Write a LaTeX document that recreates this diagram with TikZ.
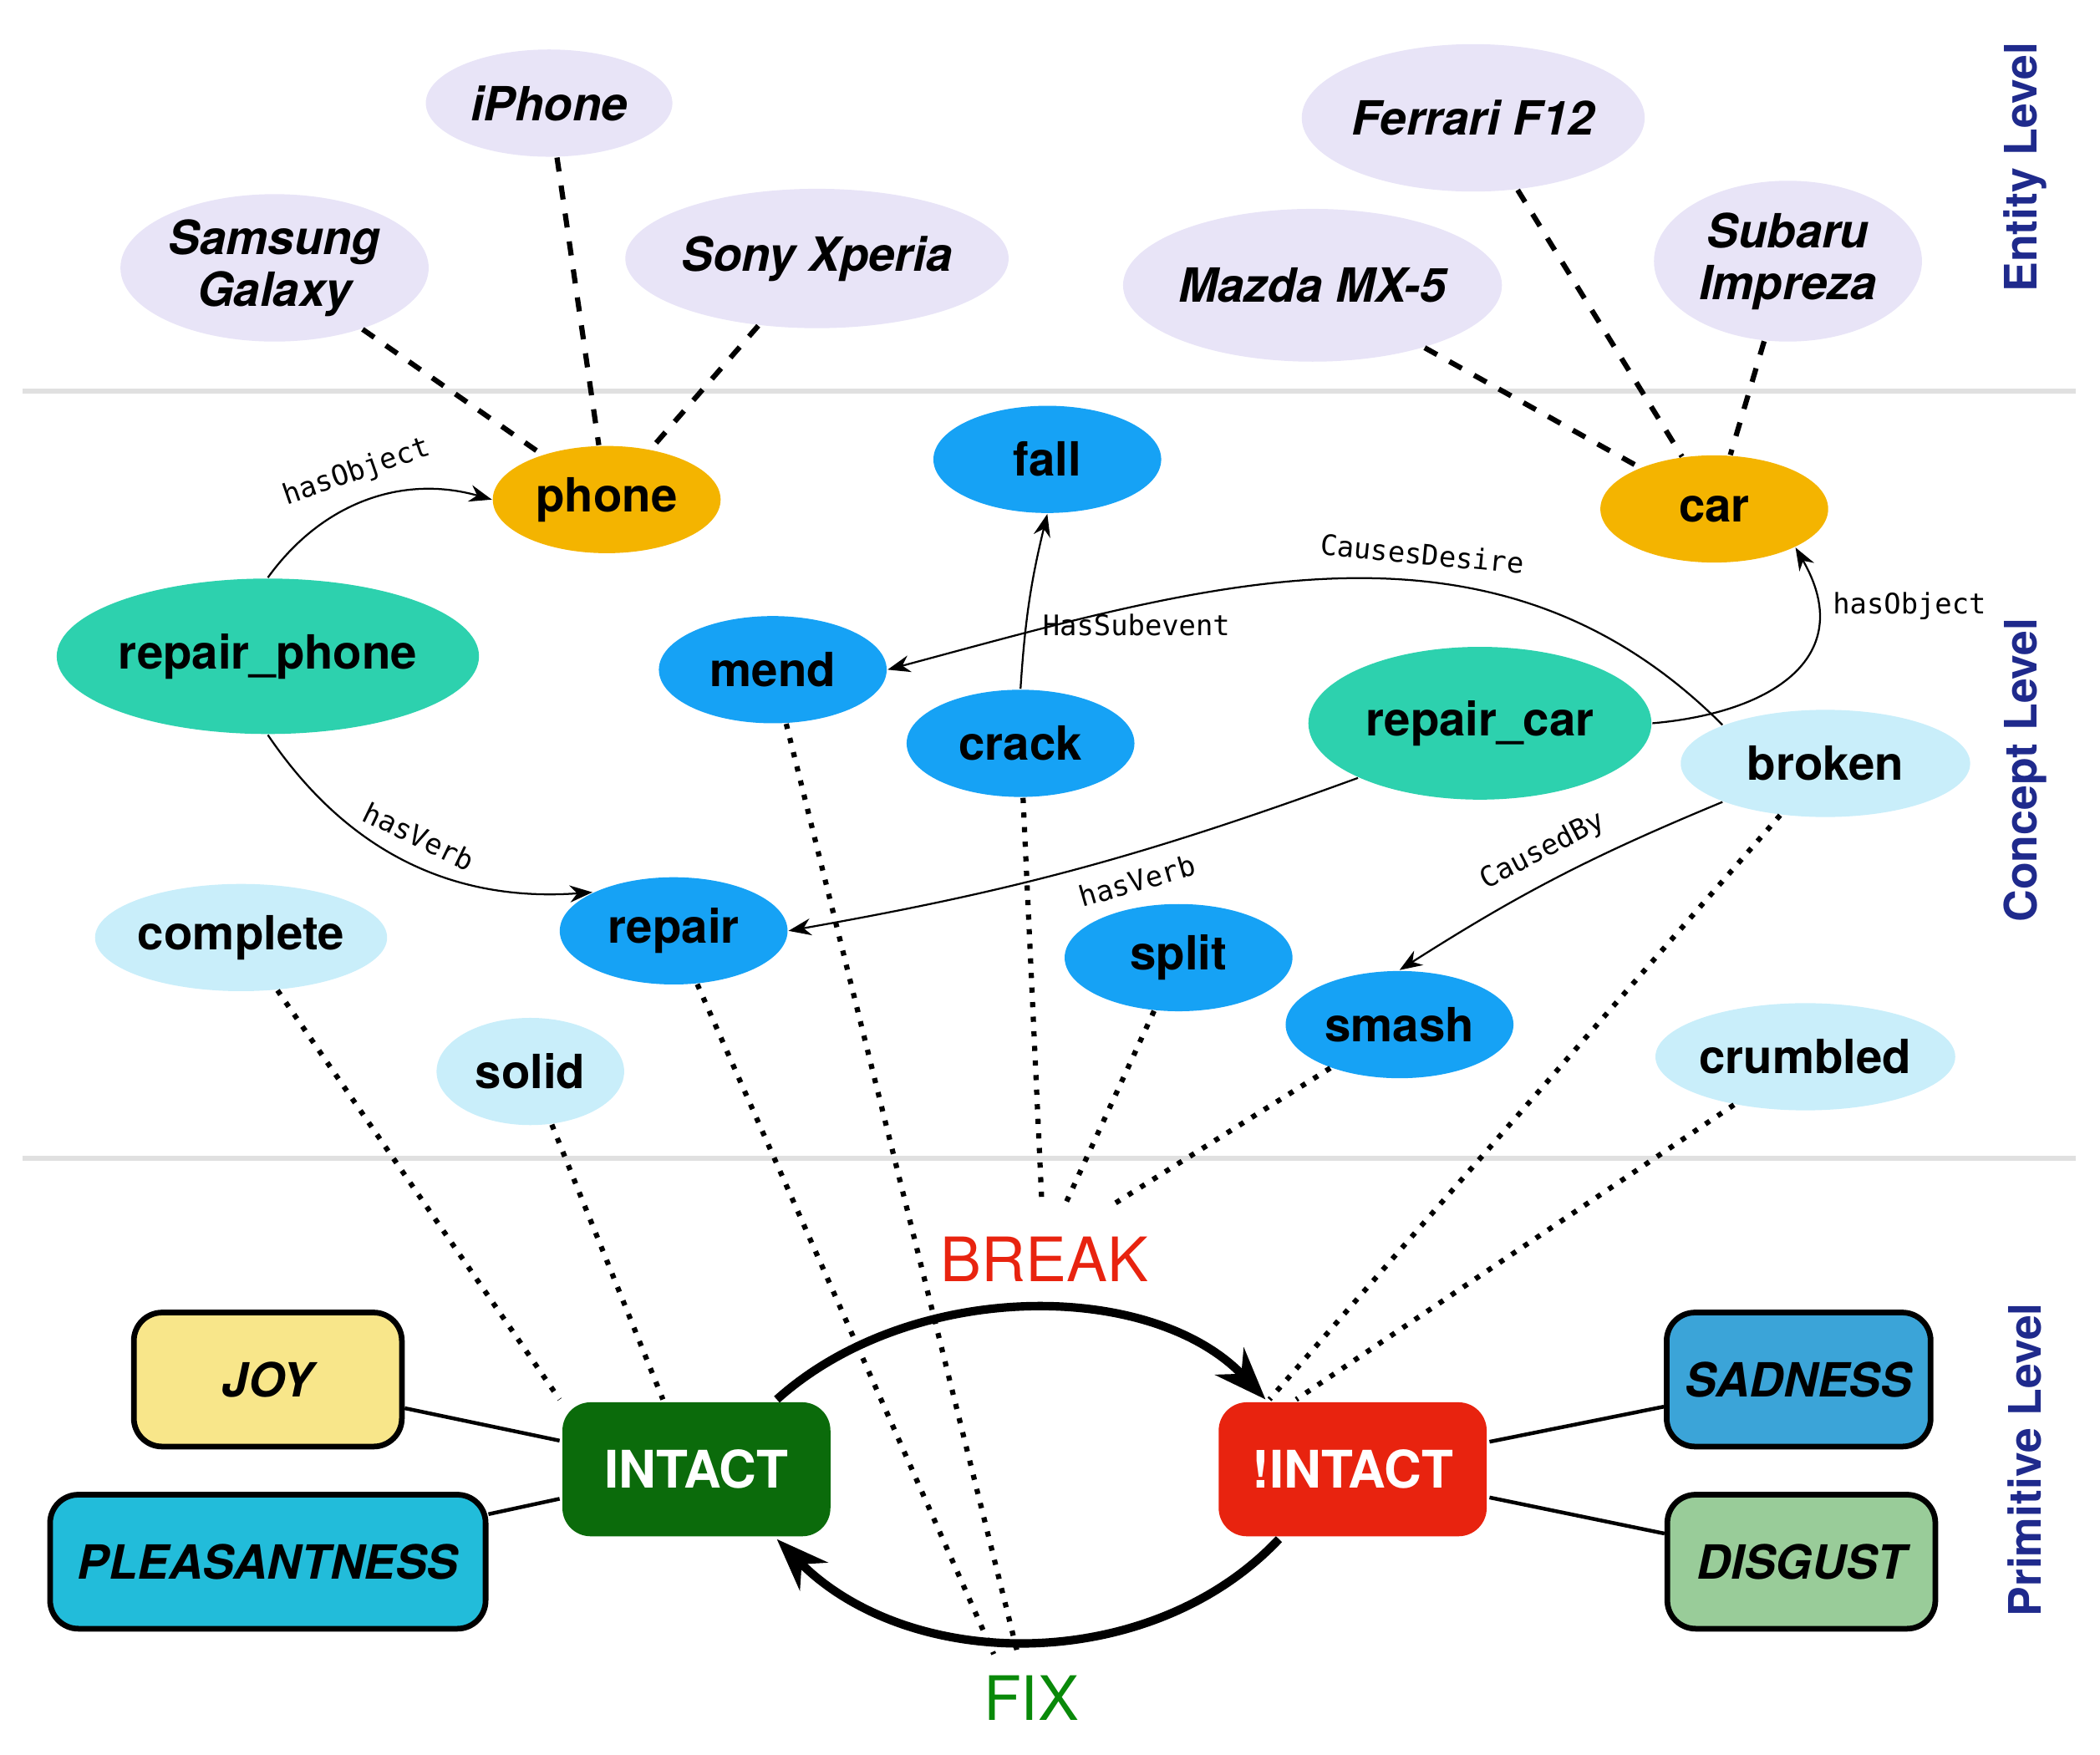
\documentclass[tikz,border=0pt]{standalone}
\usepackage{fontspec}
\setmainfont{TeX Gyre Heros}
\setmonofont{DejaVu Sans Mono}
\usetikzlibrary{shapes.geometric,arrows.meta}
\definecolor{lav}{HTML}{E8E4F7}
\definecolor{orng}{HTML}{F4B400}
\definecolor{blu}{HTML}{16A2F5}
\definecolor{grn}{HTML}{2DD1AE}
\definecolor{lblu}{HTML}{C9EEFA}
\definecolor{joyc}{HTML}{F8E68A}
\definecolor{plsc}{HTML}{22BCDA}
\definecolor{intc}{HTML}{0B6B0B}
\definecolor{nintc}{HTML}{E8230F}
\definecolor{sadc}{HTML}{3BA4D8}
\definecolor{disc}{HTML}{99CC99}
\definecolor{navy}{HTML}{1F2A8C}
\begin{document}
\begin{tikzpicture}[x=0.01cm,y=-0.01cm]
        \tikzstyle{ell} = [ellipse, inner sep=0pt, font=\fontsize{10}{11}\selectfont\bfseries]
        \tikzstyle{ent} = [ell, fill=lav, font=\fontsize{10}{11}\selectfont\bfseries\itshape, align=center]
        \tikzstyle{box} = [draw=black, line width=1.2pt, rounded corners=6pt, minimum width=2cm, minimum height=1cm, font=\fontsize{10}{11}\selectfont\bfseries\itshape]
        \tikzstyle{rel} = [font=\fontsize{6}{7}\selectfont\ttfamily, sloped]
        \tikzstyle{lvl} = [rotate=90, text=navy, font=\fontsize{9.5}{11}\selectfont\bfseries]
        \useasboundingbox (0,0) rectangle (1568,1310);
        \draw[black!12, line width=1pt] (17,292) -- (1550,292);
        \draw[black!12, line width=1pt] (17,865) -- (1550,865);

        % entity level
        \node[ent, minimum width=1.84cm, minimum height=0.8cm] (iphone) at (410,77) {iPhone};
        \node[ent, minimum width=2.3cm, minimum height=1.1cm] (samsung) at (205,200) {Samsung\\Galaxy};
        \node[ent, minimum width=2.3cm, minimum height=1.04cm] (sony) at (610,193) {Sony Xperia};
        \node[ent, minimum width=2.34cm, minimum height=1.1cm] (ferrari) at (1100,88) {Ferrari F12};
        \node[ent, minimum width=2.6cm, minimum height=1.14cm] (mazda) at (980,213) {Mazda MX-5};
        \node[ent, minimum width=2cm, minimum height=1.2cm] (subaru) at (1335,195) {Subaru\\Impreza};

        % concept level
        \node[ell, fill=orng, minimum width=1.7cm, minimum height=0.8cm] (phone) at (453,373) {phone};
        \node[ell, fill=orng, minimum width=1.7cm, minimum height=0.8cm] (car) at (1280,380) {car};
        \node[ell, fill=blu, minimum width=1.7cm, minimum height=0.8cm] (fall) at (782,343) {fall};
        \node[ell, fill=grn, minimum width=2.76cm, minimum height=1.16cm] (rphone) at (200,490) {repair\_phone};
        \node[ell, fill=blu, minimum width=1.7cm, minimum height=0.8cm] (mend) at (577,500) {mend};
        \node[ell, fill=blu, minimum width=1.7cm, minimum height=0.8cm] (crack) at (762,555) {crack};
        \node[ell, fill=grn, minimum width=2.56cm, minimum height=1.14cm] (rcar) at (1105,540) {repair\_car};
        \node[ell, fill=lblu, minimum width=2.16cm, minimum height=0.8cm] (broken) at (1363,570) {broken};
        \node[ell, fill=lblu, minimum width=1.94cm, minimum height=0.8cm] (complete) at (180,700) {complete};
        \node[ell, fill=blu, minimum width=1.7cm, minimum height=0.8cm] (repair) at (503,695) {repair};
        \node[ell, fill=blu, minimum width=1.7cm, minimum height=0.8cm] (split) at (880,715) {split};
        \node[ell, fill=blu, minimum width=1.7cm, minimum height=0.8cm] (smash) at (1045,765) {smash};
        \node[ell, fill=lblu, minimum width=1.4cm, minimum height=0.8cm] (solid) at (396,800) {solid};
        \node[ell, fill=lblu, minimum width=2.16cm, minimum height=0.8cm] (crumbled) at (1348,789) {crumbled};

        % primitive level
        \node[box, fill=joyc] (joy) at (200,1030) {JOY};
        \node[box, fill=plsc, minimum width=3.25cm] (pleas) at (200,1166) {PLEASANTNESS};
        \node[box, fill=intc, draw=none, text=white, font=\fontsize{11}{12}\selectfont\bfseries] (intact) at (520,1097) {INTACT};
        \node[box, fill=nintc, draw=none, text=white, font=\fontsize{11}{12}\selectfont\bfseries] (nintact) at (1010,1097) {!INTACT};
        \node[box, fill=sadc, minimum width=1.97cm] (sad) at (1343,1030) {SADNESS};
        \node[box, fill=disc] (disg) at (1345,1166) {DISGUST};
        \node[text=nintc, font=\fontsize{13}{14}\selectfont] (brk) at (780,940) {BREAK};
        \node[text=intc!80!green, font=\fontsize{13}{14}\selectfont] (fix) at (770,1268) {FIX};
        \coordinate (brk1) at (778,900);
        \coordinate (brk2) at (795,900);
        \coordinate (brk3) at (830,900);
        \coordinate (fix1) at (760,1235);
        \coordinate (fix2) at (742,1235);

        \node[lvl] (lent) at (1512,125) {Entity Level};
        \node[lvl] (lcon) at (1512,575) {Concept Level};
        \node[lvl] (lpri) at (1512,1090) {Primitive Level};

        % dashed links
        \draw[dashed, line width=1.1pt] (iphone) -- (phone);
        \draw[dashed, line width=1.1pt] (samsung) -- (phone);
        \draw[dashed, line width=1.1pt] (sony) -- (phone);
        \draw[dashed, line width=1.1pt] (ferrari) -- (car);
        \draw[dashed, line width=1.1pt] (mazda) -- (car);
        \draw[dashed, line width=1.1pt] (subaru) -- (car);

        % relations
        \path[-Stealth] (rphone.north) edge[bend left=35] node[rel, above]{hasObject} (phone.west);
        \path[-Stealth] (rphone.south) edge[bend right=30] node[rel, above]{hasVerb} (repair.north west);
        \path[-Stealth] (rcar.south west) edge[bend left=5] node[rel, below, pos=0.4]{hasVerb} (repair.east);
        \path[-Stealth] (rcar.east) edge[out=5, in=-60, looseness=1.4] node[rel, right, pos=0.8, sloped=false]{hasObject} (car.south east);
        \path[-Stealth] (broken.north west) edge[out=135, in=15] node[rel, above, pos=0.4]{CausesDesire} (mend.east);
        \path[-Stealth] (crack.north) edge[bend left=5] node[rel, right, pos=0.35, sloped=false]{HasSubevent} (fall.south);
        \path[-Stealth] (broken.south west) edge[bend right=5] node[rel, above]{CausedBy} (smash.north);

        % dotted links
        \draw[dotted, line width=1.1pt] (complete) -- (intact.north west);
        \draw[dotted, line width=1.1pt] (solid) -- ([xshift=-0.25cm]intact.north);
        \draw[dotted, line width=1.1pt] (mend) -- (fix1);
        \draw[dotted, line width=1.1pt] (repair) -- (fix2);
        \draw[dotted, line width=1.1pt] (crack) -- (brk1);
        \draw[dotted, line width=1.1pt] (split) -- (brk2);
        \draw[dotted, line width=1.1pt] (smash) -- (brk3);
        \draw[dotted, line width=1.1pt] (broken) -- ([xshift=0.4cm]nintact.north west);
        \draw[dotted, line width=1.1pt] (crumbled) -- ([xshift=0.6cm]nintact.north west);

        % primitive links
        \draw[line width=0.8pt] (joy) -- (intact);
        \draw[line width=0.8pt] (pleas) -- (intact);
        \draw[line width=0.8pt] (nintact) -- (sad);
        \draw[line width=0.8pt] (nintact) -- (disg);
        \draw[-Stealth, line width=1.8pt] ([xshift=0.6cm]intact.north) .. controls (680,955) and (860,955) .. ([xshift=-0.65cm]nintact.north);
        \draw[-Stealth, line width=1.8pt] ([xshift=-0.55cm]nintact.south) .. controls (860,1250) and (680,1250) .. ([xshift=0.6cm]intact.south);
    \end{tikzpicture}
\end{document}
